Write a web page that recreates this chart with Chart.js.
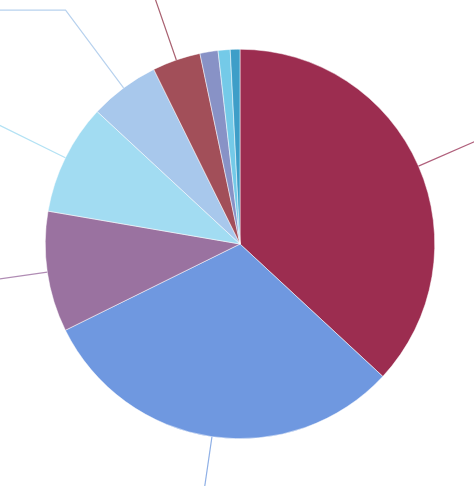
<!DOCTYPE html>
<html>
<head>
<meta charset="utf-8">
<script src="https://cdn.jsdelivr.net/npm/chart.js@4.4.1/dist/chart.umd.min.js"></script>
<style>
  html, body { margin: 0; padding: 0; background: #fff; }
  #wrap { position: relative; width: 474px; height: 486px; }
</style>
</head>
<body>
<div id="wrap"><canvas id="pieChart"></canvas></div>
<script>
// slice data, clockwise from 12 o'clock (percent)
const sliceLabels = ['A', 'B', 'C', 'D', 'E', 'F', 'G', 'H', 'I'];
const sliceValues = [36.9, 30.8, 10.0, 9.2, 5.8, 4.0, 1.5, 1.0, 0.8];
const sliceColors = ['#9c2d50', '#6f98e0', '#9a72a0', '#a2dcf2', '#a8c8ec', '#a24f59', '#8892c6', '#74cae8', '#3e9ec8'];
const lineColors  = ['#b0607c', '#8fb0e6', '#b08cb4', '#b4e2f4', '#b8d2ee', '#a86070', null, null, null];

// leader lines run out past the canvas edge (the labels are cropped off)
const leaderLines = {
  id: 'leaderLines',
  afterDatasetsDraw(chart) {
    const ctx = chart.ctx;
    chart.getDatasetMeta(0).data.forEach((arc, i) => {
      if (!lineColors[i]) return;
      const mid = (arc.startAngle + arc.endAngle) / 2;
      const r = arc.outerRadius;
      const cx = arc.x, cy = arc.y;
      ctx.save();
      ctx.strokeStyle = lineColors[i];
      ctx.lineWidth = 1.2;
      ctx.beginPath();
      ctx.moveTo(cx + Math.cos(mid) * r, cy + Math.sin(mid) * r);
      if (i === 4) {
        const ex = cx + Math.cos(mid) * (r + 97), ey = cy + Math.sin(mid) * (r + 97);
        ctx.lineTo(ex, ey);
        ctx.lineTo(ex - 200, ey);
      } else {
        ctx.lineTo(cx + Math.cos(mid) * (r + 200), cy + Math.sin(mid) * (r + 200));
      }
      ctx.stroke();
      ctx.restore();
    });
  }
};

new Chart(document.getElementById('pieChart'), {
  type: 'pie',
  data: {
    labels: sliceLabels,
    datasets: [{
      data: sliceValues,
      backgroundColor: sliceColors,
      borderColor: '#ffffff',
      borderWidth: 0.5
    }]
  },
  options: {
    responsive: true,
    maintainAspectRatio: false,
    animation: false,
    layout: { padding: { top: 48, bottom: 46, left: 45, right: 39 } },
    plugins: {
      legend: { display: false },
      tooltip: { enabled: false }
    }
  },
  plugins: [leaderLines]
});
</script>
</body>
</html>
